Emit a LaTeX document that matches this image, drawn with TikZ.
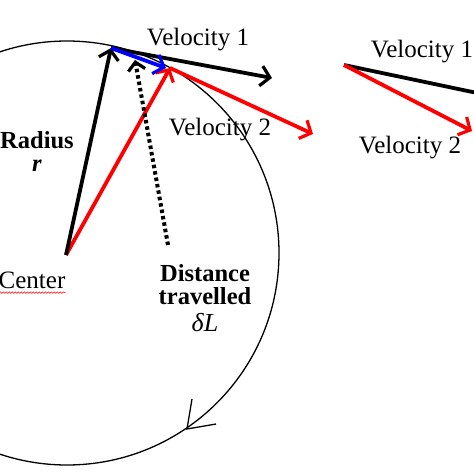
\documentclass[tikz,border=0pt]{standalone}
\usepackage{fontspec}
\setmainfont{Liberation Serif}
\usetikzlibrary{arrows.meta,decorations.pathmorphing,calc}
\begin{document}
\begin{tikzpicture}[x=1pt,y=-1pt,
  vec/.style={line width=3.8pt, -{Straight Barb[length=9pt,width=20pt,line width=3.2pt]}},
  lbl/.style={font=\fontsize{25}{28}\selectfont, inner sep=0pt},
  blbl/.style={font=\bfseries\fontsize{24.5}{28}\selectfont, inner sep=0pt}]
\useasboundingbox (0,0) rectangle (474,474);
\clip (0,0) rectangle (474,474);
\coordinate (O) at (67,253);
\coordinate (C) at (66,255);
\coordinate (P1) at (111,48);
\coordinate (P2) at (170,68);
\coordinate (V1) at (272,78);
\coordinate (V2) at (313,134);
\coordinate (B) at (166,68);
\coordinate (D0) at (168,245);
\coordinate (D1) at (135,60);
\coordinate (Q) at (344,65);
\coordinate (QV1) at (482,94);
\coordinate (QV2) at (472,131);
\coordinate (ct) at (187,429);
\coordinate (cb1) at (192,399);
\coordinate (cb2) at (216,424);
% circle of motion
\draw[line width=1.3pt] (O) circle[radius=212];
\draw[line width=1.3pt] (cb1) -- (ct) -- (cb2);
% radii
\draw[vec, red] (C) -- (P2);
\draw[vec, black] (C) -- (P1);
% velocities
\draw[vec, red] (P2) -- (V2);
\draw[vec, black] (P1) -- (V1);
\draw[vec, blue] (P1) -- (B);
% distance travelled
\draw[line width=4pt, dash pattern=on 3.5pt off 3pt, -{Straight Barb[length=8pt,width=17pt,line width=3.2pt]}] (D0) -- (D1);
% right-hand vector triangle
\draw[line width=3.8pt] (Q) -- (QV1);
\draw[vec, red] (Q) -- (QV2);
% labels
\node[lbl] (v1) at (198,40) {Velocity 1};
\node[lbl] (v2) at (220,130) {Velocity 2};
\node[blbl] (rad) at (37,140) {Radius};
\node[font=\bfseries\itshape\fontsize{24.5}{28}\selectfont, inner sep=0pt] (r) at (37,166) {r};
\node[lbl] (cen) at (32,280) {Center};
\draw[red, line width=0.5pt, decorate, decoration={snake, amplitude=0.8pt, segment length=3pt}] ($(cen.south west)+(1,4)$) -- ($(cen.south east)+(0,4)$);
\node[blbl] (dist1) at (205,273) {Distance};
\node[blbl] (dist2) at (205,296) {travelled};
\node[lbl, font=\itshape\fontsize{26}{28}\selectfont] (dl) at (205,323) {δL};
\node[lbl] (v1b) at (422,52) {Velocity 1};
\node[lbl] (v2b) at (410,148) {Velocity 2};
\end{tikzpicture}
\end{document}
